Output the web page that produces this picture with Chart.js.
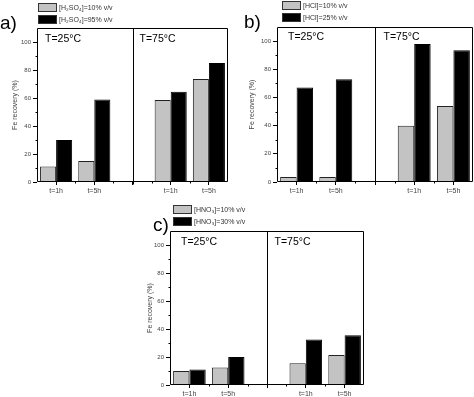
<!DOCTYPE html>
<html><head><meta charset="utf-8">
<script src="https://cdn.jsdelivr.net/npm/chart.js@4.4.0/dist/chart.umd.min.js"></script>
<style>
html,body{margin:0;padding:0;background:#fff;}
body{width:474px;height:397px;position:relative;overflow:hidden;}
canvas{position:absolute;display:block;}
</style></head><body>
<canvas id="ca" width="237" height="200" style="left:0;top:0;width:237px;height:200px"></canvas>
<canvas id="cb" width="237" height="200" style="left:237px;top:0;width:237px;height:200px"></canvas>
<canvas id="cc" width="260" height="202" style="left:110px;top:195px;width:260px;height:202px"></canvas>
<script>
// ---- data ----
const categories = ['t=1h', 't=5h', '', 't=1h', 't=5h'];
const tempLabels = ['T=25°C', 'T=75°C'];
const yTicks = [0, 20, 40, 60, 80, 100];
const yTitle = 'Fe recovery (%)';
const panelTags = ['a)', 'b)', 'c)'];

const h2so4Labels = ['[H₂SO₄]=10% v/v', '[H₂SO₄]=95% v/v'];
const h2so4Low  = [11, 15, null, 58.5, 73.5];
const h2so4High = [30, 59, null, 64.5, 85];

const hclLabels = ['[HCl]=10% v/v', '[HCl]=25% v/v'];
const hclLow  = [3.5, 3.5, null, 40, 54];
const hclHigh = [67, 73, null, 98, 93.5];

const hno3Labels = ['[HNO₃]=10% v/v', '[HNO₃]=30% v/v'];
const hno3Low  = [10, 12.5, null, 15.5, 21.5];
const hno3High = [11, 20, null, 32.5, 35.5];

// ---- styling / layout ----
const FONT = '"Liberation Sans", Arial, Helvetica, sans-serif';
Chart.defaults.font.family = FONT;
const GREY = '#c3c3c3';
const BLACK = '#000000';

const decoPlugin = {
  id: 'deco',
  afterDraw(chart, args, o) {
    const {ctx, chartArea: ca, scales} = chart;
    const x = scales.x, y = scales.y;
    ctx.save();
    ctx.strokeStyle = '#000';
    ctx.lineWidth = 1;
    const L = Math.round(ca.left) + 0.5, R = Math.round(ca.right) - 0.5;
    const T = Math.round(ca.top) + 0.5, B = Math.round(ca.bottom) - 0.5;
    ctx.beginPath();
    ctx.rect(L, T, R - L, B - T);
    ctx.stroke();
    // divider between temperatures (at the empty middle category)
    const dx = Math.round(x.getPixelForValue(2)) + 0.5;
    ctx.beginPath();
    ctx.moveTo(dx, T); ctx.lineTo(dx, B + 3);
    // minor y ticks
    for (let i = 0; i < yTicks.length - 1; i++) {
      const v = (yTicks[i] + yTicks[i + 1]) / 2;
      const py = Math.round(y.getPixelForValue(v)) + 0.5;
      ctx.moveTo(L - 2, py); ctx.lineTo(L, py);
    }
    // minor x ticks at category boundaries
    for (let i = 0; i < categories.length - 1; i++) {
      const bx = Math.round((x.getPixelForValue(i) + x.getPixelForValue(i + 1)) / 2) + 0.5;
      ctx.moveTo(bx, B); ctx.lineTo(bx, B + 2);
    }
    ctx.stroke();
    // temperature labels
    ctx.fillStyle = '#000';
    ctx.font = '10.5px ' + FONT;
    ctx.textBaseline = 'alphabetic';
    ctx.textAlign = 'left';
    ctx.fillText(tempLabels[0], ca.left + o.tOff[0], ca.top + o.tOff[2]);
    ctx.fillText(tempLabels[1], dx + o.tOff[1], ca.top + o.tOff[2]);
    // legend
    ctx.font = '7px ' + FONT;
    chart.data.datasets.forEach((ds, i) => {
      const bx = o.legend.x, by = o.legend.y + i * 12;
      ctx.fillStyle = ds.backgroundColor;
      ctx.fillRect(bx, by, 19, 9);
      ctx.strokeStyle = '#333';
      ctx.strokeRect(bx + 0.5, by + 0.5, 18, 8);
      ctx.fillStyle = '#333';
      ctx.fillText(ds.label, bx + 21, by + 7);
    });
    // panel tag
    ctx.fillStyle = '#000';
    ctx.font = '19px ' + FONT;
    ctx.fillText(o.tag, o.tagPos[0], o.tagPos[1]);
    ctx.restore();
  }
};

function makePanel(id, labels, low, high, geo) {
  const cv = document.getElementById(id);
  return new Chart(cv, {
    type: 'bar',
    data: {
      labels: categories,
      datasets: [
        {label: labels[0], data: low, backgroundColor: GREY, borderColor: '#222', borderWidth: 1,
         categoryPercentage: 0.84, barPercentage: 1.0},
        {label: labels[1], data: high, backgroundColor: BLACK, borderColor: '#000', borderWidth: 1,
         categoryPercentage: 0.84, barPercentage: 1.0}
      ]
    },
    options: {
      responsive: false,
      animation: false,
      devicePixelRatio: 1,
      layout: {padding: {left: 0, top: geo.top, right: geo.right, bottom: 0}},
      plugins: {
        legend: {display: false},
        tooltip: {enabled: false},
        deco: {legend: geo.legend, tag: geo.tag, tagPos: geo.tagPos, tOff: geo.tOff}
      },
      scales: {
        x: {
          offset: true,
          border: {display: false},
          grid: {offset: false, drawOnChartArea: false, drawTicks: true, tickLength: 3, color: '#000'},
          ticks: {font: {size: 7}, color: '#444', padding: 1.5, maxRotation: 0, autoSkip: false},
          afterFit: s => { s.height = geo.bottom; }
        },
        y: {
          min: 0, max: 110,
          border: {display: false},
          grid: {drawOnChartArea: false, drawTicks: true, tickLength: 4, color: '#000'},
          ticks: {font: {size: 6}, color: '#444', padding: 2},
          afterBuildTicks: s => { s.ticks = yTicks.map(v => ({value: v})); },
          title: {display: true, text: yTitle, font: {size: 7}, color: '#444', padding: {top: geo.titlePad, bottom: 0}},
          afterFit: s => { s.width = geo.left; }
        }
      }
    },
    plugins: [decoPlugin]
  });
}

makePanel('ca', h2so4Labels, h2so4Low, h2so4High,
  {left: 37, top: 28, right: 9, bottom: 18, titlePad: 11, legend: {x: 38, y: 3}, tag: panelTags[0], tagPos: [0, 29], tOff: [8, 6, 14]});
makePanel('cb', hclLabels, hclLow, hclHigh,
  {left: 40, top: 27, right: 1, bottom: 18, titlePad: 11, legend: {x: 45, y: 1}, tag: panelTags[1], tagPos: [7, 28], tOff: [11, 8, 13]});
makePanel('cc', hno3Labels, hno3Low, hno3High,
  {left: 60, top: 36, right: 6, bottom: 12, titlePad: 36, legend: {x: 63, y: 10}, tag: panelTags[2], tagPos: [43, 36], tOff: [11, 7, 14]});
</script>
</body></html>
